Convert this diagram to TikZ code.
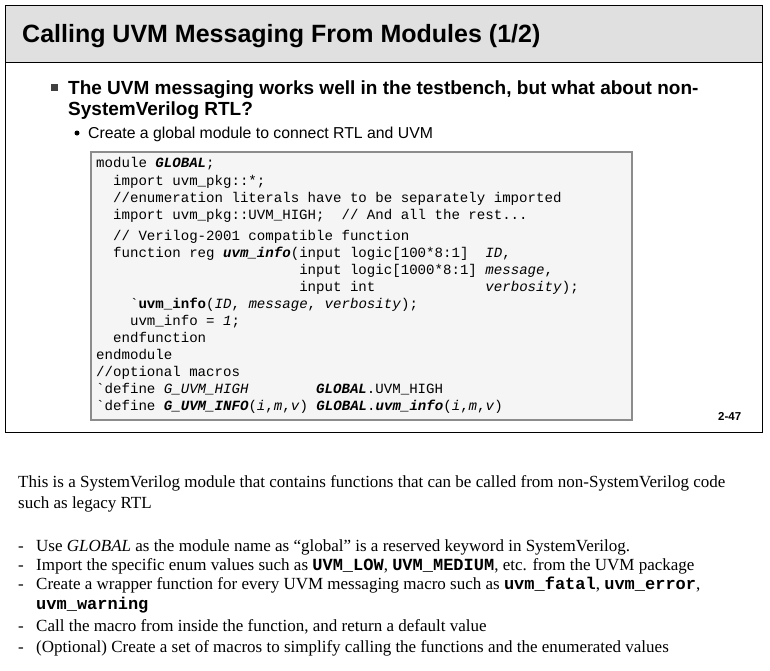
\documentclass[tikz,border=0pt]{standalone}
\usepackage{fontspec}
\setmainfont{Liberation Serif}
\setmonofont{Liberation Mono}
\newfontfamily\sansf{Liberation Sans}
\begin{document}
\begin{tikzpicture}[x=1pt,y=-1pt,
  cl/.style={anchor=base west,inner sep=0pt,font=\ttfamily\fontsize{14.1}{15}\selectfont},
  bt/.style={anchor=base west,inner sep=0pt,font=\fontsize{17}{19}\selectfont}]
\useasboundingbox (0,0) rectangle (770,670);
\fill[white] (0,0) rectangle (770,670);
\draw[fill=black!12] (5,5) rectangle (762,62);
\draw (5,62) rectangle (762,432);
\node[anchor=base west,inner sep=0pt,font=\sansf\bfseries\fontsize{25}{27}\selectfont] (title) at (22,42) {Calling UVM Messaging From Modules (1/2)};
\fill[black!75] (51,84) rectangle (58,91);
\node[anchor=base west,inner sep=0pt,font=\sansf\bfseries\fontsize{19}{21}\selectfont] (b1) at (68,94) {The UVM messaging works well in the testbench, but what about non-};
\node[anchor=base west,inner sep=0pt,font=\sansf\bfseries\fontsize{19}{21}\selectfont] (b1b) at (68,115) {SystemVerilog RTL?};
\fill (77,133) circle (2.5);
\node[anchor=base west,inner sep=0pt,font=\sansf\fontsize{15.8}{17}\selectfont] (b2) at (88,138) {Create a global module to connect RTL and UVM};
\draw[black!45,line width=1.2pt,fill=black!4] (91,152) rectangle (632,420);
\node[cl] (l1) at (96,167) {module \textbf{\textit{GLOBAL}};};
\node[cl] (l2) at (96,185) {~~import uvm\_pkg::*;};
\node[cl] (l3) at (96,202) {~~//enumeration literals have to be separately imported};
\node[cl] (l4) at (96,219) {~~import uvm\_pkg::UVM\_HIGH;~~// And all the rest...};
\node[cl] (l5) at (96,240) {~~// Verilog-2001 compatible function};
\node[cl] (l6) at (96,257) {~~function reg \textbf{\textit{uvm\_info}}(input logic[100*8:1]~~\textit{ID},};
\node[cl] (l7) at (96,274) {~~~~~~~~~~~~~~~~~~~~~~~~input logic[1000*8:1] \textit{message},};
\node[cl] (l8) at (96,291) {~~~~~~~~~~~~~~~~~~~~~~~~input int~~~~~~~~~~~~~\textit{verbosity});};
\node[cl] (l9) at (96,308) {~~~~\textasciigrave\textbf{uvm\_info}(\textit{ID}, \textit{message}, \textit{verbosity});};
\node[cl] (l10) at (96,325) {~~~~uvm\_info = \textit{1};};
\node[cl] (l11) at (96,342) {~~endfunction};
\node[cl] (l12) at (96,359) {endmodule};
\node[cl] (l13) at (96,376) {//optional macros};
\node[cl] (l14) at (96,393) {\textasciigrave define \textit{G\_UVM\_HIGH}~~~~~~~~\textbf{\textit{GLOBAL}}.UVM\_HIGH};
\node[cl] (l15) at (96,410) {\textasciigrave define \textbf{\textit{G\_UVM\_INFO}}(\textit{i},\textit{m},\textit{v}) \textbf{\textit{GLOBAL}}.\textbf{\textit{uvm\_info}}(\textit{i},\textit{m},\textit{v})};
\node[anchor=base west,inner sep=0pt,font=\sansf\bfseries\fontsize{11.5}{13}\selectfont] (pg) at (718,420) {2-47};
\node[bt] (t1) at (18,487) {This is a SystemVerilog module that contains functions that can be called from non-SystemVerilog code};
\node[bt] (t2) at (18,508) {such as legacy RTL};
\node[bt] (d1) at (18,551) {-};
\node[bt] (u1) at (36,551) {Use \textit{GLOBAL} as the module name as “global” is a reserved keyword in SystemVerilog.};
\node[bt] (d2) at (18,570) {-};
\node[bt] (u2) at (36,570) {Import the specific enum values such as \texttt{\textbf{UVM\_LOW}}, \texttt{\textbf{UVM\_MEDIUM}}, etc. from the UVM package};
\node[bt] (d3) at (18,589) {-};
\node[bt] (u3) at (36,589) {Create a wrapper function for every UVM messaging macro such as \texttt{\textbf{uvm\_fatal}}, \texttt{\textbf{uvm\_error}},};
\node[bt] (u3b) at (36,609) {\texttt{\textbf{uvm\_warning}}};
\node[bt] (d4) at (18,631) {-};
\node[bt] (u4) at (36,631) {Call the macro from inside the function, and return a default value};
\node[bt] (d5) at (18,652) {-};
\node[bt] (u5) at (36,652) {(Optional) Create a set of macros to simplify calling the functions and the enumerated values};
\end{tikzpicture}
\end{document}
